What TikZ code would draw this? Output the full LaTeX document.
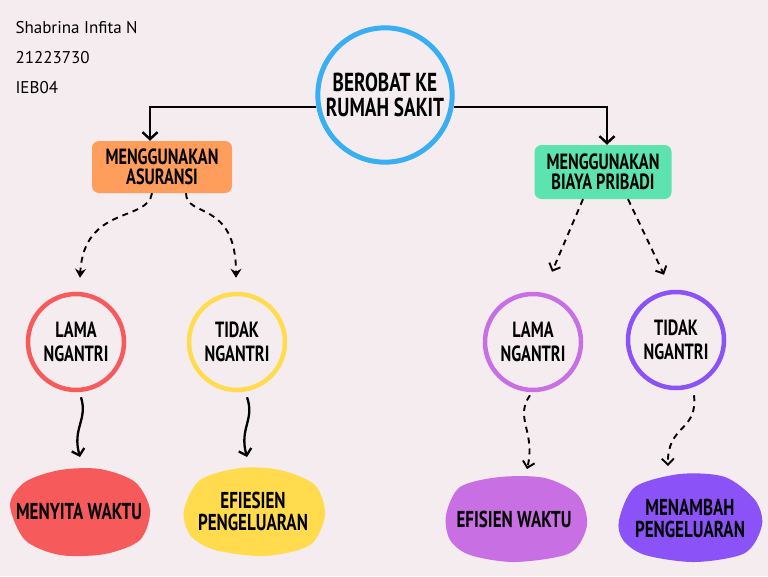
\documentclass[tikz,border=0pt]{standalone}
\usepackage{fontspec}
\usepackage{xcolor}
\usepackage{tikz}
\newfontfamily\headfont[FakeStretch=0.74]{PT Sans}
\newfontfamily\infofont{PT Sans}
\usetikzlibrary{
	arrows.meta,
	calc,
	positioning,
	}

\definecolor{bgpink}{HTML}{F5ECF0}
\definecolor{hubblue}{HTML}{3AAEF3}
\definecolor{insorange}{HTML}{FF9E5C}
\definecolor{selfgreen}{HTML}{5DE3B0}
\definecolor{lamared}{HTML}{F75A5A}
\definecolor{tidakyellow}{HTML}{FFDB4D}
\definecolor{lamapurple}{HTML}{C76FE3}
\definecolor{tidakviolet}{HTML}{8B52F7}

\tikzset{
	hub/.style={circle, draw=hubblue, line width=5pt, minimum size=132pt, align=center,
		font=\headfont\bfseries\fontsize{26}{25}\selectfont},
	choice/.style={rectangle, rounded corners=7pt, minimum width=140pt, minimum height=52pt,
		align=center, font=\headfont\bfseries\fontsize{22}{20}\selectfont},
	ring/.style={circle, line width=4.5pt, minimum size=96pt, align=center,
		font=\headfont\bfseries\fontsize{22}{24}\selectfont},
	result/.style={align=center, font=\headfont\bfseries\fontsize{23}{22}\selectfont},
	info/.style={anchor=west, font=\infofont\fontsize{17}{18}\selectfont},
	mainarrow/.style={line width=2.4pt, -{Straight Barb[length=7pt,width=15pt]}},
	dasharrow/.style={line width=1.9pt, dash pattern=on 6pt off 5pt,
		-{Straight Barb[length=6pt,width=12pt]}},
	stealtharrow/.style={dasharrow, -{Stealth[length=9pt,width=11pt,inset=3pt]}},
	wavearrow/.style={line width=2.3pt, -{Straight Barb[length=6pt,width=13pt]}},
}

\begin{document}
\begin{tikzpicture}[x=1pt, y=-1pt]
		\fill[bgpink, use as bounding box] (0,0) rectangle (768,576);

		\node[info] (nama) at (12,28) {Shabrina Infita N};
		\node[info] (nim) at (12,58) {21223730};
		\node[info] (kelas) at (12,88) {IEB04};

		\node[hub] (hub) at (385,95) {BEROBAT KE\\RUMAH SAKIT};
		\node[choice, fill=insorange] (ins) at (162,167) {MENGGUNAKAN\\ASURANSI};
		\node[choice, fill=selfgreen, minimum width=137pt, minimum height=54pt] (self) at (603,172) {MENGGUNAKAN\\BIAYA PRIBADI};

		\node[ring, draw=lamared] (lamaA) at (76,342) {LAMA\\NGANTRI};
		\node[ring, draw=tidakyellow] (tidakA) at (237,342) {TIDAK\\NGANTRI};
		\node[ring, draw=lamapurple] (lamaB) at (533,342) {LAMA\\NGANTRI};
		\node[ring, draw=tidakviolet] (tidakB) at (676,340) {TIDAK\\NGANTRI};

		% blobs
		\fill[lamared] plot[smooth cycle] coordinates {(10,505) (25,482) (60,470) (100,469) (135,482) (150,510) (140,540) (105,554) (60,555) (25,540)};
		\fill[tidakyellow] plot[smooth cycle] coordinates {(184,510) (200,480) (240,468) (280,470) (315,485) (325,515) (310,545) (265,556) (215,550) (190,535)};
		\fill[lamapurple] plot[smooth cycle] coordinates {(446,515) (460,487) (500,477) (545,478) (578,495) (587,525) (570,553) (515,562) (470,555) (450,540)};
		\fill[tidakviolet] plot[smooth cycle] coordinates {(619,520) (635,487) (680,474) (725,477) (755,500) (762,525) (745,553) (695,562) (645,555) (623,540)};

		\node[result] (waktuA) at (79,512) {MENYITA WAKTU};
		\node[result] (hemat) at (253,511) {EFIESIEN\\PENGELUARAN};
		\node[result] (waktuB) at (514,519) {EFISIEN WAKTU};
		\node[result] (tambah) at (690,518) {MENAMBAH\\PENGELUARAN};

		% arrow tips above the blobs
		\coordinate (tipA) at (80,457);
		\coordinate (tipB) at (247,457);
		\coordinate (tipC) at (527,469);
		\coordinate (tipD) at (668,466);

		\draw[mainarrow] (hub.190) -| ([xshift=-12pt]ins.north);
		\draw[mainarrow] (hub.-10) -| ([xshift=4pt]self.north);

		\draw[stealtharrow] ([xshift=-10pt]ins.south) .. controls (148,222) and (84,205) .. ([shift={(4pt,14pt)}]lamaA.north);
		\draw[stealtharrow] ([xshift=24pt]ins.south) .. controls (186,218) and (236,200) .. ([shift={(-1pt,14pt)}]tidakA.north);
		\draw[dasharrow] ([xshift=-20pt]self.south) -- ([shift={(19pt,20pt)}]lamaB.north);
		\draw[dasharrow] ([xshift=25pt]self.south) -- ([shift={(-12pt,15pt)}]tidakB.north);

		\draw[wavearrow] ([shift={(5pt,-5pt)}]lamaA.south) .. controls (88,420) and (72,428) .. (tipA);
		\draw[wavearrow] ([shift={(10pt,-5pt)}]tidakA.south) .. controls (255,420) and (239,428) .. (tipB);
		\draw[dasharrow] ([shift={(-3pt,-3pt)}]lamaB.south) .. controls (514,418) and (536,432) .. (tipC);
		\draw[dasharrow] ([shift={(18pt,-5pt)}]tidakB.south) .. controls (698,432) and (667,424) .. (tipD);
	\end{tikzpicture}
\end{document}
